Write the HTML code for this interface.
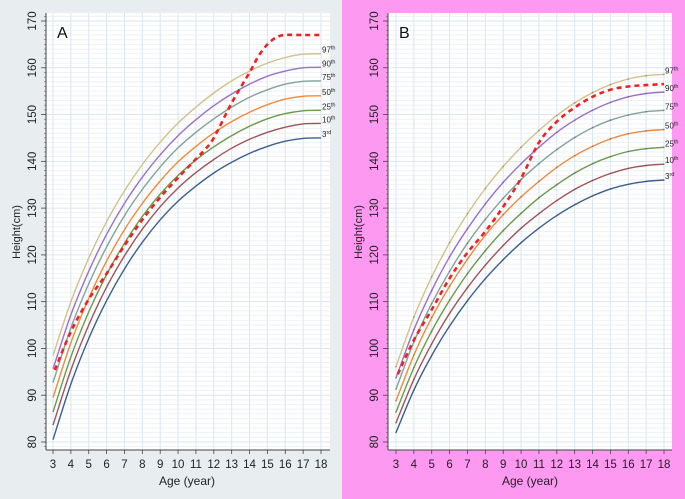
<!DOCTYPE html>
<html><head><meta charset="utf-8"><style>
html,body{margin:0;padding:0;background:#fff}
svg{display:block;font-family:"Liberation Sans",sans-serif}
</style></head><body>
<svg id="c" width="685" height="499" viewBox="0 0 685 499" xmlns="http://www.w3.org/2000/svg">
<rect x="0" y="0" width="342" height="499" fill="#e8eef0"/>
<rect x="342" y="0" width="343" height="499" fill="#fd99f1"/>
</svg>
<script>
const ages = [3,4,5,6,7,8,9,10,11,12,13,14,15,16,17,18];
const pctNames = ['97th','90th','75th','50th','25th','10th','3rd'];
const colors = ['#d4c089','#9d6fc8','#82a39b','#f08a3a','#6a9a4a','#a0545a','#3b5f8f'];
const boysP97 = [98.5,110,119.3,127.1,133.7,139.3,144.1,148.2,151.6,154.6,157.2,159.3,161,162.2,162.9,163];
const boysP90 = [95.6,107.2,116.5,124.4,131,136.6,141.4,145.5,148.9,151.9,154.4,156.5,158.2,159.3,160,160.1];
const boysP75 = [92.7,104.4,113.8,121.7,128.4,134,138.8,142.9,146.2,149.1,151.6,153.7,155.3,156.5,157.1,157.2];
const boysP50 = [89.5,101.2,110.7,118.7,125.4,131,135.8,139.9,143.2,146.1,148.5,150.5,152.1,153.3,153.9,154];
const boysP25 = [86.4,98.2,107.8,115.8,122.5,128.2,133,137,140.3,143.1,145.5,147.5,149.1,150.2,150.8,150.9];
const boysP10 = [83.6,95.4,105,113.1,119.8,125.5,130.3,134.3,137.6,140.4,142.8,144.7,146.2,147.3,148,148.1];
const boysP3 = [80.5,92.4,102.1,110.2,117,122.7,127.5,131.5,134.7,137.5,139.8,141.7,143.2,144.3,144.9,145];
const patientAAges = [3.1,4,5,6,7,8,9,10,11,11.5,12,13,14,14.5,15,15.5,16,17,18];
const patientAHeights = [95.4,103.6,110.5,116,122,127.5,132.3,136.5,140.5,142.5,145,152.5,159,162.5,165,166.5,167,167,167];
const girlsP97 = [96.1,106.7,115.3,122.6,128.8,134.2,138.9,143,146.6,149.8,152.5,154.7,156.4,157.6,158.3,158.6];
const girlsP90 = [93.7,104,112.4,119.6,125.6,130.9,135.5,139.5,143,146.2,148.8,150.9,152.6,153.8,154.5,154.8];
const girlsP75 = [91.3,101.4,109.6,116.5,122.5,127.6,132.1,136.1,139.5,142.5,145.1,147.2,148.8,149.9,150.6,150.9];
const girlsP50 = [88.8,98.6,106.6,113.3,119.1,124.2,128.6,132.4,135.7,138.7,141.2,143.2,144.8,145.9,146.5,146.8];
const girlsP25 = [86.4,95.9,103.7,110.3,116,120.9,125.2,128.9,132.2,135,137.5,139.5,141,142.1,142.7,143];
const girlsP10 = [84.1,93.4,101,107.5,113,117.8,122,125.7,128.8,131.6,134,135.9,137.4,138.5,139.1,139.4];
const girlsP3 = [82,91.1,98.5,104.8,110.2,114.9,119,122.6,125.7,128.4,130.7,132.6,134.1,135.1,135.7,136];
const patientBAges = [3.1,4,5,6,7,8,9,10,11,12,13,14,15,16,17,18];
const patientBHeights = [94.5,101.8,108.3,115,120.5,125,130.3,136.4,144,148.5,151.5,153.8,155.3,156,156.3,156.5];
const yTicks = [80,90,100,110,120,130,140,150,160,170];

const svg = document.getElementById('c');
const NS = 'http://www.w3.org/2000/svg';
function mk(tag, attrs, parent){const e=document.createElementNS(NS,tag);for(const k in attrs)e.setAttribute(k,attrs[k]);(parent||svg).appendChild(e);return e;}
function smooth(pts){
  let d='M'+pts[0][0].toFixed(1)+','+pts[0][1].toFixed(1);
  for(let i=0;i<pts.length-1;i++){
    const p0=pts[Math.max(0,i-1)],p1=pts[i],p2=pts[i+1],p3=pts[Math.min(pts.length-1,i+2)];
    const c1=[p1[0]+(p2[0]-p0[0])/6,p1[1]+(p2[1]-p0[1])/6];
    const c2=[p2[0]-(p3[0]-p1[0])/6,p2[1]-(p3[1]-p1[1])/6];
    d+='C'+c1.map(v=>v.toFixed(1)).join(',')+' '+c2.map(v=>v.toFixed(1)).join(',')+' '+p2[0].toFixed(1)+','+p2[1].toFixed(1);
  }
  return d;
}

function panel(p){
  const g = mk('g',{});
  
  
  const xs = a => p.x0 + (a-3)*(p.x1-p.x0)/15;
  const ys = v => 442 - (v-80)*(442-21)/90;
  const plot = mk('rect',{x:p.L,y:13,width:p.R-p.L,height:437,fill:'#fff'},g);
  
  
  for(let v=79; v<=171; v++){
    mk('line',{x1:p.L,x2:p.R,y1:ys(v),y2:ys(v),stroke: v%10===0?'#dbe6ee':'#edf2f6','stroke-width':1},g);
    mk('line',{x1:p.L-2,x2:p.L,y1:ys(v),y2:ys(v),stroke:'#666','stroke-width':0.6},g);
  }
  ages.forEach(a=>{
    mk('line',{x1:xs(a),x2:xs(a),y1:13,y2:450,stroke:'#dbe6ee','stroke-width':1},g);
    mk('line',{x1:xs(a),x2:xs(a),y1:450,y2:454,stroke:'#444','stroke-width':0.8},g);
    const t = mk('text',{x:xs(a),y:468,'text-anchor':'middle','font-size':11.5,fill:'#222'},g);
    t.textContent = a;
    
    
  });
  yTicks.forEach(v=>{
    mk('line',{x1:p.L-5,x2:p.L,y1:ys(v),y2:ys(v),stroke:'#444','stroke-width':0.8},g);
    const t = mk('text',{x:0,y:0,'text-anchor':'middle','font-size':11.5,fill:'#222',transform:`translate(${p.L-10},${ys(v)}) rotate(-90)`},g);
    t.textContent = v;
    
    
  });
  mk('line',{x1:p.L,x2:p.L,y1:13,y2:450,stroke:'#444','stroke-width':1},g);
  mk('line',{x1:p.L,x2:p.R,y1:450,y2:450,stroke:'#444','stroke-width':1},g);
  const xt = mk('text',{x:(p.x0+p.x1)/2,y:485,'text-anchor':'middle','font-size':12,fill:'#222'},g);
  xt.textContent='Age (year)';
  
  
  const yt = mk('text',{x:0,y:0,'text-anchor':'middle','font-size':11,fill:'#222',transform:`translate(${p.L-26},232) rotate(-90)`},g);
  yt.textContent='Height(cm)';
  
  
  const lt = mk('text',{x:p.L+11,y:38,'font-size':16,fill:'#111'},g);
  lt.textContent=p.letter;
  
  
  p.series.forEach((s,i)=>{
    const path = mk('path',{d:smooth(s.map((v,j)=>[xs(ages[j]),ys(v)])),fill:'none',stroke:colors[i],'stroke-width':1.4},g);
    
    
    if(p.dots){ s.forEach((v,j)=>{ mk('circle',{cx:xs(ages[j]),cy:ys(v),r:0.9,fill:'#555',opacity:0.45},g); }); }
    const lab = mk('text',{x:p.x1+1,y:ys(s[s.length-1])-1,'font-size':8,fill:'#222'},g);
    const num = pctNames[i].replace(/[a-z]+$/,''), suf = pctNames[i].slice(num.length);
    lab.textContent = num;
    const sp = mk('tspan',{'font-size':5.5,dy:-3},lab); sp.textContent = suf;
    
    
  });
  const pd = mk('path',{d:smooth(p.pAges.map((a,j)=>[xs(a),ys(p.pVals[j])])),fill:'none',stroke:'#ee2222','stroke-width':2.6,'stroke-dasharray':'5,4'},g);
  
  
}
panel({name:'panel-a',letter:'A',L:46,R:330,x0:53,x1:321,dots:false,
  series:[boysP97,boysP90,boysP75,boysP50,boysP25,boysP10,boysP3],pAges:patientAAges,pVals:patientAHeights});
panel({name:'panel-b',letter:'B',L:388,R:672,x0:396,x1:664,dots:true,
  series:[girlsP97,girlsP90,girlsP75,girlsP50,girlsP25,girlsP10,girlsP3],pAges:patientBAges,pVals:patientBHeights});
</script>
</body></html>
